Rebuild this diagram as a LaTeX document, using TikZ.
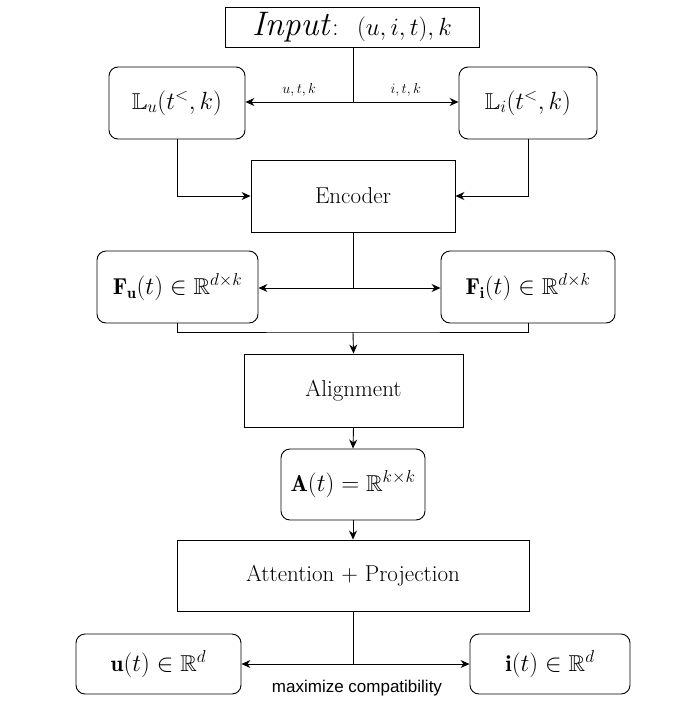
\documentclass[tikz,border=0pt]{standalone}
\usepackage{amsmath,amssymb}
\usepackage{fontspec}
\newfontfamily\sansf{Liberation Sans}
\usetikzlibrary{arrows.meta}
\begin{document}
\begin{tikzpicture}[x=1pt,y=-1pt,
  box/.style={draw,line width=0.9pt,minimum width=#1,inner sep=0pt},
  rbox/.style={box=#1,rounded corners=9pt},
  big/.style={font=\fontsize{23}{26}\selectfont},
  arr/.style={-{Stealth[length=9pt,width=8pt]},line width=0.9pt},
  ln/.style={line width=0.9pt}]
\useasboundingbox (0,0) rectangle (689,710);
\node[box=254pt,minimum height=40pt,font=\fontsize{34}{36}\selectfont] (in) at (352,27) {$\mathit{Input}\colon\ (u,i,t),k$};
\node[rbox=136pt,minimum height=72pt,big] (lu) at (177,103) {$\mathbb{L}_u(t^{<},k)$};
\node[rbox=138pt,minimum height=72pt,big] (li) at (528,103) {$\mathbb{L}_i(t^{<},k)$};
\node[box=204pt,minimum height=72pt,big] (enc) at (353,196) {Encoder};
\node[rbox=161pt,minimum height=72pt,big] (fu) at (177.5,287) {$\mathbf{F}_{\mathbf{u}}(t)\in\mathbb{R}^{d\times k}$};
\node[rbox=174pt,minimum height=72pt,big] (fi) at (528,287) {$\mathbf{F}_{\mathbf{i}}(t)\in\mathbb{R}^{d\times k}$};
\node[box=219pt,minimum height=73pt,big] (al) at (353.5,390.5) {Alignment};
\node[rbox=144pt,minimum height=71pt,big] (A) at (353,484.5) {$\mathbf{A}(t)=\mathbb{R}^{k\times k}$};
\node[box=352pt,minimum height=71pt,big] (att) at (353,575.5) {Attention + Projection};
\node[rbox=165pt,minimum height=60pt,big] (uv) at (158.5,664) {$\mathbf{u}(t)\in\mathbb{R}^{d}$};
\node[rbox=160pt,minimum height=60pt,big] (iv) at (550,664) {$\mathbf{i}(t)\in\mathbb{R}^{d}$};
\coordinate (j1) at (353,102);
\coordinate (j2) at (353,288);
\coordinate (j3) at (353,332);
\coordinate (j4) at (353,664);
\draw[ln] (in.south -| j1) -- (j1);
\draw[arr] (j1) -- (lu.east |- j1) node[pos=0.5,above=2pt,font=\fontsize{14}{16}\selectfont] {$u,t,k$};
\draw[arr] (j1) -- (li.west |- j1) node[pos=0.5,above=2pt,font=\fontsize{14}{16}\selectfont] {$i,t,k$};
\draw[arr] (lu.south) |- (enc.west);
\draw[arr] (li.south) |- (enc.east);
\draw[ln] (enc.south) -- (j2);
\draw[arr] (j2) -- (fu.east |- j2);
\draw[arr] (j2) -- (fi.west |- j2);
\draw[ln] (fu.south) |- (j3) -| (fi.south);
\draw[arr] (j3) -- (al.north);
\draw[arr] (al.south) -- (A.north);
\draw[arr] (A.south) -- (att.north);
\draw[ln] (att.south) -- (j4);
\draw[arr] (j4) -- (uv.east |- j4);
\draw[arr] (j4) -- (iv.west |- j4) ;
\node[font=\sansf\fontsize{17}{19}\selectfont] (mc) at (357,688) {maximize compatibility};
\end{tikzpicture}
\end{document}
